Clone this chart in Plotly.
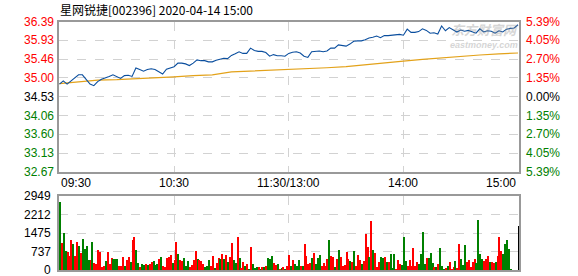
import plotly.graph_objects as go

# ---------------- data ----------------
title_text = "星网锐捷[002396] 2020-04-14 15:00"
prev_close = 34.53
price_levels = [36.39, 35.93, 35.46, 35.00, 34.53, 34.06, 33.60, 33.13, 32.67]
pct_labels = ["5.39", "4.05", "2.70", "1.35", "0.00", "1.35", "2.70", "4.05", "5.39"]
vol_levels = [0, 737, 1475, 2212, 2949]
time_ticks = ["09:30", "10:30", "11:30/13:00", "14:00", "15:00"]
time_tick_minutes = [0, 60, 120, 180, 240]

# price every 2 minutes from 09:30 (trading minutes)
price_step = 2
price = [
    34.84, 34.92, 34.84, 34.92, 34.99, 35.07, 35.07, 34.94, 34.84, 34.80,
    34.90, 34.96, 34.99, 35.03, 35.07, 35.02, 34.98, 35.05, 35.06, 35.03,
    35.24, 35.20, 35.16, 35.20, 35.22, 35.20, 35.15, 35.09, 35.21, 35.25,
    35.27, 35.36, 35.36, 35.34, 35.30, 35.36, 35.44, 35.42, 35.42, 35.39,
    35.39, 35.43, 35.45, 35.48, 35.47, 35.55, 35.59, 35.64, 35.60, 35.60,
    35.73, 35.67, 35.65, 35.65, 35.62, 35.53, 35.57, 35.54, 35.54, 35.53,
    35.60, 35.63, 35.64, 35.61, 35.53, 35.50, 35.64, 35.65, 35.66, 35.64,
    35.66, 35.73, 35.73, 35.81, 35.80, 35.78, 35.83, 35.90, 35.91, 35.91,
    35.94, 35.98, 36.00, 36.03, 35.99, 36.04, 36.04, 36.05, 36.07, 36.07,
    36.05, 36.20, 36.12, 36.12, 36.14, 36.21, 36.17, 36.10, 36.11, 36.08,
    36.28, 36.16, 36.24, 36.18, 36.13, 36.18, 36.15, 36.17, 36.14, 36.10,
    36.21, 36.13, 36.16, 36.15, 36.10, 36.16, 36.13, 36.20, 36.22, 36.23,
    36.31,
]

# average price every 10 minutes
avg_step = 10
avg_price = [
    34.85, 34.90, 34.94, 34.95, 34.97, 35.00, 35.02, 35.05, 35.07, 35.14,
    35.16, 35.17, 35.20, 35.22, 35.245, 35.27, 35.32, 35.36, 35.41, 35.45,
    35.49, 35.52, 35.56, 35.59, 35.61,
]

# volume per minute (241 minutes) and up/down flags
volume = [
    2730, 1090, 1475, 760, 720, 560, 1200, 1040, 560, 1120,
    960, 680, 1240, 840, 960, 400, 400, 1120, 280, 240,
    800, 720, 120, 160, 360, 720, 240, 480, 440, 440,
    440, 160, 160, 520, 160, 400, 520, 320, 1200, 1320,
    800, 280, 120, 240, 200, 240, 200, 240, 320, 360,
    200, 240, 440, 520, 160, 120, 480, 520, 600, 280,
    400, 1120, 640, 400, 360, 480, 160, 360, 120, 200,
    400, 760, 440, 400, 360, 240, 120, 160, 400, 160,
    560, 80, 280, 480, 440, 640, 440, 600, 320, 520,
    1080, 400, 280, 1320, 480, 80, 320, 160, 240, 40,
    920, 240, 80, 120, 120, 40, 120, 120, 160, 480,
    440, 560, 280, 200, 240, 40, 80, 120, 40, 160,
    600, 160, 400, 240, 160, 400, 160, 160, 1040, 560,
    240, 280, 480, 680, 240, 480, 600, 160, 280, 160,
    440, 1200, 560, 520, 120, 440, 800, 520, 160, 200,
    720, 440, 360, 320, 760, 160, 600, 400, 240, 360,
    1440, 920, 520, 1960, 800, 680, 120, 320, 520, 480,
    520, 320, 320, 640, 80, 640, 40, 400, 240, 200,
    1320, 360, 160, 400, 160, 880, 160, 320, 240, 640,
    1520, 240, 480, 480, 680, 280, 120, 120, 240, 880,
    160, 40, 80, 160, 320, 40, 120, 360, 80, 1040,
    440, 200, 1000, 320, 400, 120, 320, 440, 280, 2000,
    640, 440, 360, 440, 560, 320, 320, 280, 320, 560,
    1320, 760, 640, 1040, 1200, 840, 40, 0, 0, 0,
    1760,
]
vol_dir = (
    "GRGGRRRGRRGRGGGGRGRRRRRRGRRRGGGRRRGRRGRRGGRGGRGRRGGGRGRRRRRGRRGRRGGGRRRRGRRRGGGR"
    "RGRRGRGRGRRGGRGRRGRGRGGGRGRGRGGGRRGRGRGRRGRGGGRGRRRRGRGGGRRRRGRRGRGRRRRRGRGRR"
    "RGRRRGRGRRRGGRGRGGGRRRGGGRRRRRRGGGGRGGGRGRGGGRGRRRGRRGGGRRRRRGGGGRRRGRRGRRRGG"
    "GGGR"
)

# ---------------- derived ----------------
price_x = [i * price_step for i in range(len(price))]
avg_x = [i * avg_step for i in range(len(avg_price))]
vol_x = list(range(len(volume)))
RED = "#FF0000"
GREEN = "#008000"
vol_colors = [RED if d == "R" else GREEN for d in vol_dir[:len(volume)]]

W, H = 578, 276
L, R = 58.5, 519.0
P_TOP, P_BOT = 21.5, 171.7
V_TOP, V_BOT = 196.0, 270.3
xdom = [L / W, R / W]
ydom_p = [1 - P_BOT / H, 1 - P_TOP / H]
ydom_v = [1 - V_BOT / H, 1 - V_TOP / H]
XR = [-0.5, 240.5]

FONT = "Liberation Sans, Arial, sans-serif"
BORDER = "#999999"
GRID = "#d2d2d2"

fig = go.Figure()
fig.add_trace(go.Scatter(x=avg_x, y=avg_price, mode="lines",
                         line=dict(color="#E3A21A", width=1.2), xaxis="x", yaxis="y",
                         hoverinfo="skip"))
fig.add_trace(go.Scatter(x=price_x, y=price, mode="lines",
                         line=dict(color="#0A4E9E", width=1.1), xaxis="x", yaxis="y",
                         hoverinfo="skip"))
fig.add_trace(go.Bar(x=vol_x, y=volume, marker=dict(color=vol_colors, line=dict(width=0)),
                     width=0.55, xaxis="x2", yaxis="y2", hoverinfo="skip"))

axis_common = dict(showline=True, linecolor=BORDER, linewidth=1.5, mirror=True,
                   showgrid=True, gridcolor=GRID, griddash="dash", gridwidth=1,
                   zeroline=False, ticks="", showticklabels=False, fixedrange=True)

fig.update_layout(
    width=W, height=H,
    margin=dict(l=0, r=0, t=0, b=0),
    paper_bgcolor="white", plot_bgcolor="white",
    showlegend=False,
    bargap=0,
    xaxis=dict(domain=xdom, range=XR, tickvals=time_tick_minutes[1:-1], anchor="y", **axis_common),
    yaxis=dict(domain=ydom_p, range=[price_levels[-1], price_levels[0]],
               tickvals=price_levels[1:-1], anchor="x", **axis_common),
    xaxis2=dict(domain=xdom, range=XR, tickvals=time_tick_minutes[1:-1], anchor="y2", **axis_common),
    yaxis2=dict(domain=ydom_v, range=[0, vol_levels[-1]],
                tickvals=vol_levels[1:-1], anchor="x2", **axis_common),
)

ann = []
# title
ann.append(dict(text=title_text, x=58 / W, y=1 - 9.5 / H, xref="paper", yref="paper",
                xanchor="left", yanchor="middle", showarrow=False,
                font=dict(family="Noto Sans CJK SC", size=12, color="#000000")))
# left price labels and right percent labels
for lvl, pct in zip(price_levels, pct_labels):
    if lvl > prev_close + 1e-9:
        c = RED
    elif abs(lvl - prev_close) < 1e-9:
        c = "#000000"
    else:
        c = GREEN
    ann.append(dict(text=f"{lvl:.2f}", x=55.5 / W, y=lvl, xref="paper", yref="y",
                    xanchor="right", yanchor="middle", showarrow=False,
                    font=dict(family=FONT, size=12, color=c)))
    ann.append(dict(text=pct + "%", x=524 / W, y=lvl, xref="paper", yref="y",
                    xanchor="left", yanchor="middle", showarrow=False,
                    font=dict(family=FONT, size=12, color=c)))
# volume labels
for v in vol_levels:
    ann.append(dict(text=str(v), x=53 / W, y=v, xref="paper", yref="y2",
                    xanchor="right", yanchor="middle", showarrow=False,
                    font=dict(family=FONT, size=12, color="#000000")))
# time labels
for i, (t, m) in enumerate(zip(time_ticks, time_tick_minutes)):
    xa = "left" if i == 0 else ("right" if i == len(time_ticks) - 1 else "center")
    ann.append(dict(text=t, x=m, y=1 - 182.5 / H, xref="x", yref="paper",
                    xanchor=xa, yanchor="middle", showarrow=False,
                    font=dict(family=FONT, size=12, color="#000000")))
# watermark
ann.append(dict(text="<b><i>东方财富网</i></b>", x=519 / W, y=1 - 29 / H, xref="paper", yref="paper",
                xanchor="right", yanchor="middle", showarrow=False, opacity=0.35,
                borderpad=0,
                font=dict(family="Noto Sans CJK SC", size=13, color="#8a8a8a")))
ann.append(dict(text="<b><i>eastmoney.com</i></b>", x=519 / W, y=1 - 45 / H, xref="paper", yref="paper",
                xanchor="right", yanchor="middle", showarrow=False, opacity=0.35,
                borderpad=0,
                font=dict(family=FONT, size=9, color="#8a8a8a")))
fig.update_layout(annotations=ann)

fig.write_html("out.html")
